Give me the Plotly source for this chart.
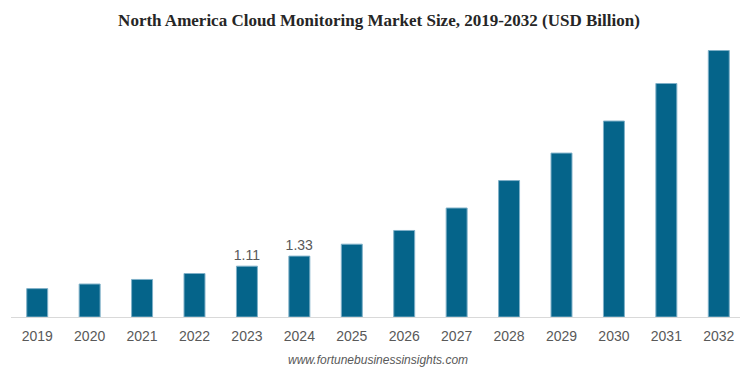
import plotly.graph_objects as go

years = ["2019", "2020", "2021", "2022", "2023", "2024", "2025", "2026",
         "2027", "2028", "2029", "2030", "2031", "2032"]
values = [0.62, 0.72, 0.82, 0.95, 1.11, 1.33, 1.59, 1.89,
          2.38, 2.98, 3.58, 4.28, 5.10, 5.82]
labels = ["", "", "", "", "1.11", "1.33", "", "", "", "", "", "", "", ""]

W, H = 748, 374
fig = go.Figure()
fig.add_trace(go.Bar(
    x=years, y=values, text=labels, textposition="outside",
    constraintext="none",
    textfont=dict(family="Liberation Sans, Arial", size=14, color="#595959"),
    marker=dict(color="#05648A", line=dict(color="#7FB0C8", width=1)),
    cliponaxis=False,
))
fig.update_layout(
    width=W, height=H,
    margin=dict(l=3, r=11, t=32, b=65, autoexpand=False),
    plot_bgcolor="white", paper_bgcolor="white",
    bargap=0.6, showlegend=False,
    title=dict(text="<b>North America Cloud Monitoring Market Size, 2019-2032 (USD Billion)</b>",
               xref="container", yref="container",
               x=371 / W, xanchor="center", y=1 - 12 / H, yanchor="middle",
               font=dict(family="Liberation Serif, Times New Roman", size=17, color="#262626")),
    xaxis=dict(showline=True, linecolor="#D9D9D9", linewidth=1, ticks="",
               ticklabelstandoff=6,
               tickfont=dict(family="Liberation Sans, Arial", size=14, color="#595959")),
    yaxis=dict(range=[0, 6.05], visible=False, showgrid=False),
    annotations=[dict(text="<i>www.fortunebusinessinsights.com</i>", xref="paper", yref="paper",
                      x=(370 - 3) / (W - 14), y=-(352 - 309) / (309 - 32),
                      xanchor="center", yanchor="middle", showarrow=False,
                      font=dict(family="Liberation Sans, Arial", size=12, color="#595959"))],
)
fig.write_html("out.html")
